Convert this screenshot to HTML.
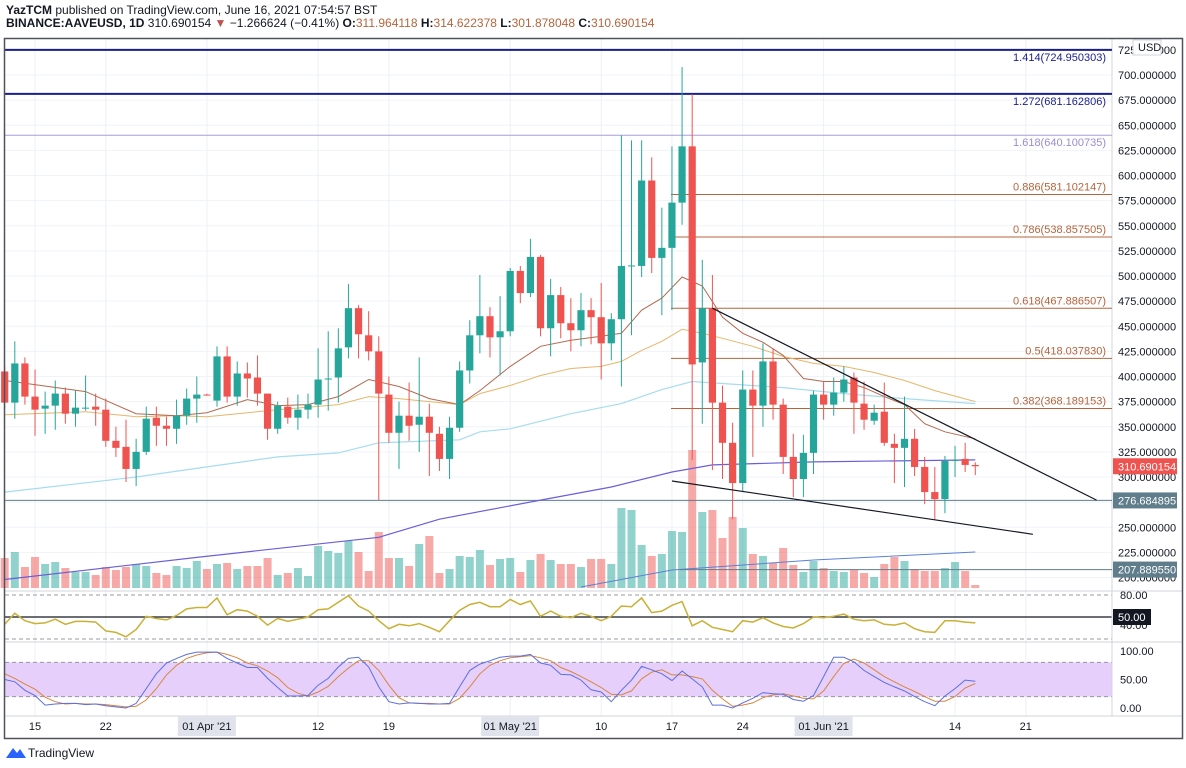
<!DOCTYPE html>
<html><head><meta charset="utf-8"><style>
html,body{margin:0;padding:0;background:#fff;width:1186px;height:768px;overflow:hidden;font-family:"Liberation Sans",sans-serif}
svg{display:block}
</style></head><body>
<svg id="c" width="1186" height="768" xmlns="http://www.w3.org/2000/svg" font-family="Liberation Sans, sans-serif">
<rect width="1186" height="768" fill="#fff"/>
<text x="6" y="14" font-size="12" fill="#131722"><tspan font-weight="bold">YazTCM</tspan> published on TradingView.com, June 16, 2021 07:54:57 BST</text>
<text x="6" y="27" font-size="12" fill="#131722"><tspan font-weight="bold">BINANCE:AAVEUSD, 1D</tspan> 310.690154 <tspan fill="#c0504d">▼</tspan> −1.266624 (−0.41%) <tspan font-weight="bold">O:</tspan><tspan fill="#b5643c">311.964118</tspan> <tspan font-weight="bold">H:</tspan><tspan fill="#b5643c">314.622378</tspan> <tspan font-weight="bold">L:</tspan><tspan fill="#b5643c">301.878048</tspan> <tspan font-weight="bold">C:</tspan><tspan fill="#b5643c">310.690154</tspan></text>
<g id="grid"></g>
<g id="pane"></g>
<rect x="4.5" y="38.5" width="1178" height="700" fill="none" stroke="#50535e" stroke-width="1.5"/>
<g id="lbl"></g>
<g>
<path d="M6 758 L13 748 L17 753 L20 749 L26 758 Z" fill="#2962ff"/>
<text x="28" y="757" font-size="12" fill="#131722">TradingView</text>
</g>
</svg>
<script>
const opens=[405,374,413,380,368,371,383,363,369,370,367,336,330,308,325,359,351,348,361,378,382,376,420,380,403,399,383,348,370,359,367,372,397,399,429,468,441,425,382,344,361,352,360,343,318,349,406,441,460,439,445,505,483,519,448,481,453,446,466,459,433,457,510,510,595,518,528,573,629,414,468,374,334,294,387,371,415,372,320,298,324,382,372,384,399,373,356,365,333,329,338,310,285,278,316,318,311.96];
const highs=[410,435,419,407,385,396,389,386,401,383,378,350,357,338,370,370,360,377,388,400,383,430,430,415,414,421,383,375,379,382,383,428,445,448,492,471,465,440,400,375,394,419,373,350,360,415,456,501,469,480,508,510,537,521,497,489,478,483,478,493,463,640,635,635,618,568,629,708,681,516,501,391,354,406,406,433,428,378,343,342,386,395,399,410,404,395,372,394,343,380,348,320,310,321,331,334,314.62];
const lows=[368,358,372,341,343,347,353,350,366,351,330,320,295,291,322,331,331,333,352,354,381,370,374,371,379,371,337,343,353,347,358,359,366,374,418,418,416,277,334,308,336,325,301,306,298,345,393,423,419,401,440,473,479,440,420,438,425,430,432,397,416,390,441,499,503,461,466,551,317,353,307,298,258,285,320,350,357,303,280,280,303,357,361,375,343,347,352,331,294,290,301,273,258,264,300,305,301.88];
const closes=[374,413,380,367,371,383,363,369,369,367,336,329,308,325,358,351,348,361,378,382,381.5,420,380,403,398,383,348,371,359,367,372,397,398,428,468,442,425,383,344,361,351,360,344,318,349,406,441,460,439,445,505,483,519,448,481,453,446,466,459,433,457,510,510.5,595,518,528,573,629,412,468,374,334,294,387,371,415,372,320,298,324,382,372,384,397,374,357,364,334,329,338,310,285,278,316,317,312,310.69];
const volumes=[30,36,21,31,24,26,20,16,16,13,21,18,21,24,22,15,13,22,20,27,19,24,25,19,22,22,30,13,15,20,12,42,37,35,47,36,17,56,30,30,22,44,52,15,19,32,31,38,23,29,30,16,28,34,28,24,24,21,29,29,24,80,78,43,32,34,57,56,138,76,78,50,71,60,34,32,25,40,23,16,27,20,17,16,18,15,11,24,31,27,19,17,17,20,26,17,3];
const rsiValues=[40,55,45,41,42,47,40,44,44,43,31,29,23,33,51,48,46,52,61,63,63,76,53,60,58,51,39,48,44,47,50,60,61,70,79,65,58,45,34,40,38,41,36,30,45,59,67,70,64,64,74,67,72,51,58,51,49,55,51,45,51,65,64,76,56,58,66,71,38,45,36,33,30,45,43,49,42,37,35,41,50,49,51,54,47,45,46,40,39,42,34,30,29,45,45,43,42];
const stochK=[50,46,31,22,5,7,8,8,6,7,4,2,0,8,34,60,79,87,94,98,98,98,87,79,71,71,52,36,21,21,22,40,52,72,87,89,72,37,11,7,9,8,7,7,8,37,66,77,83,89,91,91,94,79,75,59,58,49,32,28,11,31,49,73,67,60,48,65,51,37,5,5,0,9,17,27,25,24,15,12,22,55,89,89,81,66,55,45,37,30,20,11,4,21,34,49,47];
const stochD=[60,52,42,33,19,11,7,8,7,7,6,4,2,3,14,34,58,75,87,93,97,98,94,88,79,74,65,53,36,26,21,28,38,55,70,83,83,66,40,18,9,8,8,7,7,17,37,60,75,83,88,90,92,88,83,71,64,55,46,36,24,23,30,51,63,67,58,58,55,51,31,16,3,5,9,18,23,25,21,17,16,30,55,78,86,79,67,55,46,37,29,20,12,12,20,35,43];
const ma20Idx=[0,8,13,17,20,24,27,30,33,36,39,42,45,47,50,53,56,59,61,63,65,67,69,71,73,75,77,79,81,83,85,87,89,91,93,96];
const ma20Val=[396,385,363,361,364,377,371,372,380,397,390,378,372,386,410,430,436,440,443,466,478,499,490,459,443,434,421,398,395,395,389,380,372,353,345,338];
const ma50Idx=[0,8,13,17,20,27,33,36,39,42,45,47,50,53,56,59,61,63,65,67,69,71,74,77,80,83,86,89,92,96];
const ma50Val=[362,365,360,361,360,367,372,380,378,375,372,383,391,401,408,410,415,426,435,447,443,438,430,420,413,410,404,396,386,375];
const ma100Idx=[0,13,20,27,33,37,45,47,50,56,61,65,68,71,77,83,89,96];
const ma100Val=[285,300,310,320,324,334,337,345,348,363,373,387,395,393,389,383,378,373];
const ma200Idx=[0,19,37,43,53,60,66,70,80,96];
const ma200Val=[198,220,240,258,277,290,305,312,315,317];
const volMaIdx=[57,66,80,96];
const volMaVal=[1,18,28,36];
const priceTicks=[725,700,675,650,625,600,575,550,525,500,475,450,425,400,375,350,325,300,275,250,225,200];
const dateLabels=["15","22","01 Apr '21","12","19","01 May '21","10","17","24","01 Jun '21","14","21"];
const dateIdx=[3,10,20,31,38,50,59,66,73,81,94,101];
const fibLabels=["1.414(724.950303)","1.272(681.162806)","1.618(640.100735)","0.886(581.102147)","0.786(538.857505)","0.618(467.886507)","0.5(418.037830)","0.382(368.189153)"];
const fibPrices=[724.950303,681.162806,640.100735,581.102147,538.857505,467.886507,418.037830,368.189153];
const trendStartIdx=[70,66];const trendStartPrice=[468,296];
const trendEndIdx=[108,101.7];const trendEndPrice=[277,243];

const NS="http://www.w3.org/2000/svg";
const X=k=>4.7+10.11*k;
const Y=p=>75+(700-p)*1.005;
const VY=v=>588-v;
const RY=v=>617-(v-50)*0.733;
const SY=v=>708-v*0.57;
const RIGHT=1112;
function mk(tag,attrs,parent){const e=document.createElementNS(NS,tag);for(const k in attrs)e.setAttribute(k,attrs[k]);parent.appendChild(e);return e;}
const grid=document.getElementById('grid'),pane=document.getElementById('pane'),lbl=document.getElementById('lbl');

// grid
priceTicks.forEach(p=>{const l=mk('line',{x1:5,x2:RIGHT,y1:Y(p),y2:Y(p),stroke:'#f0f3fa'},grid);

});
dateIdx.forEach(k=>{const l=mk('line',{x1:X(k),x2:X(k),y1:39,y2:716,stroke:'#eef0f5'},grid);

});

// stoch band
const band=mk('rect',{x:5,y:SY(80),width:RIGHT-5,height:SY(20)-SY(80),fill:'#e6cffb'},grid);


[[SY(80)],[SY(20)],[RY(80)],[RY(20)]].forEach(a=>{const l=mk('line',{x1:5,x2:RIGHT,y1:a[0],y2:a[0],stroke:'#9598a1','stroke-dasharray':'4,3'},grid);

});
const mid=mk('line',{x1:5,x2:RIGHT,y1:RY(50),y2:RY(50),stroke:'#131722','stroke-width':1.2},grid);


// pane separators
[591,642,716].forEach(y=>{const l=mk('line',{x1:5,x2:1183,y1:y,y2:y,stroke:'#d1d4dc'},grid);

});
const axisSep=mk('line',{x1:RIGHT,x2:RIGHT,y1:39,y2:716,stroke:'#d1d4dc'},grid);



// volume
volumes.forEach((v,k)=>{const up=closes[k]>=opens[k];
const r=mk('rect',{x:X(k)-4,y:VY(v),width:8,height:v,fill:up?'rgba(38,166,154,0.5)':'rgba(239,83,80,0.5)'},pane);

});

function poly(idx,val,fy,color,name,w){const pts=idx.map((k,i)=>X(k).toFixed(1)+','+fy(val[i]).toFixed(1)).join(' ');
const p=mk('polyline',{points:pts,fill:'none',stroke:color,'stroke-width':w||1},pane);return p;}
let pl;
pl=poly(volMaIdx,volMaVal,VY,'#5b7fd8','volume-ma');

// horizontal levels
const hl=[[724.950303,'#1a1f8c',2,5],[681.162806,'#1a1f8c',2,5],[640.100735,'#a99be0',1,5],[581.102147,'#b5643c',1,671],[538.857505,'#b5643c',1,671],[467.886507,'#b5643c',1,671],[418.037830,'#b5643c',1,671],[368.189153,'#b5643c',1,671],[276.684895,'#607d8b',1,5],[207.88955,'#607d8b',1,680]];
hl.forEach(h=>{const l=mk('line',{x1:h[3],x2:RIGHT,y1:Y(h[0]),y2:Y(h[0]),stroke:h[1],'stroke-width':h[2]},pane);

});
const fibColors=['#1a1f8c','#1a1f8c','#9b8dd0','#b5643c','#b5643c','#b5643c','#b5643c','#b5643c'];
fibLabels.forEach((t,i)=>{const below=i<3;const tx=mk('text',{x:1106,y:Y(fibPrices[i])+(below?11:-4),'font-size':11,'text-anchor':'end',fill:fibColors[i]},pane);tx.textContent=t;

});

// MAs
pl=poly(ma200Idx,ma200Val,Y,'#6a5fd9','ma-200',1.2);
pl=poly(ma100Idx,ma100Val,Y,'#a6dcef','ma-100',1.2);
pl=poly(ma50Idx,ma50Val,Y,'#e6b66a','ma-50',1);
pl=poly(ma20Idx,ma20Val,Y,'#b3694f','ma-20',1);

// candles
opens.forEach((o,k)=>{const c=closes[k],up=c>=o,col=up?'#26a69a':'#ef5350',x=X(k);
const w=mk('line',{x1:x,x2:x,y1:Y(highs[k]),y2:Y(lows[k]),stroke:col,'stroke-width':1},pane);


const t=Y(Math.max(o,c)),b=Y(Math.min(o,c));
const r=mk('rect',{x:x-3.6,y:t,width:7.2,height:Math.max(1,b-t),fill:col},pane);

});

// trendlines
trendStartIdx.forEach((k,i)=>{const l=mk('line',{x1:X(k),y1:Y(trendStartPrice[i]),x2:X(trendEndIdx[i]),y2:Y(trendEndPrice[i]),stroke:'#131722','stroke-width':1.2},pane);

});

// RSI & stoch
const allIdx=opens.map((_,k)=>k);
pl=poly(allIdx,rsiValues,RY,'#c9b037','rsi-line',1.5);
pl=poly(allIdx,stochD,SY,'#d9863f','stoch-d-line',1);
pl=poly(allIdx,stochK,SY,'#5b6fe0','stoch-k-line',1);

// axis labels
priceTicks.forEach(p=>{const t=mk('text',{x:1118,y:Y(p)+4,'font-size':11,fill:'#131722'},lbl);t.textContent=p.toFixed(6);

});
function box(yc,txt,bg,name){const r=mk('rect',{x:1113,y:yc-8,width:64,height:16,fill:bg},lbl);


const t=mk('text',{x:1118,y:yc+4,'font-size':11,fill:'#fff'},lbl);t.textContent=txt;

}
box(Y(310.690154),'310.690154','#ef5350','last-price-label');
box(Y(276.684895),'276.684895','#607d8b','level-276-label');
box(Y(207.88955),'207.889550','#607d8b','level-207-label');
[[80,'80.00'],[20,'40.00']].forEach(a=>{const t=mk('text',{x:1120,y:RY(a[0])+4+(a[0]==20?-14:0),'font-size':11,fill:'#131722'},lbl);t.textContent=a[1];

});
const r50=mk('rect',{x:1113,y:RY(50)-8,width:38,height:16,fill:'#131722'},lbl);


const t50=mk('text',{x:1118,y:RY(50)+4,'font-size':11,fill:'#fff'},lbl);t50.textContent='50.00';


[[100,'100.00'],[50,'50.00'],[0,'0.00']].forEach(a=>{const t=mk('text',{x:1120,y:SY(a[0])+4,'font-size':11,fill:'#131722'},lbl);t.textContent=a[1];

});
const ub=mk('rect',{x:1133,y:40,width:28,height:15,fill:'#fff',stroke:'#d1d4dc'},lbl);


const ut=mk('text',{x:1138,y:51,'font-size':11,fill:'#131722'},lbl);ut.textContent='USD';


dateLabels.forEach((d,i)=>{const x=X(dateIdx[i]);const boxed=d.length>3;
if(boxed){const r=mk('rect',{x:x-29,y:716,width:58,height:20,fill:'#e0e3eb'},lbl);

}
const t=mk('text',{x:x,y:730,'font-size':11,'text-anchor':'middle',fill:'#131722'},lbl);t.textContent=d;

});
</script>
</body></html>
